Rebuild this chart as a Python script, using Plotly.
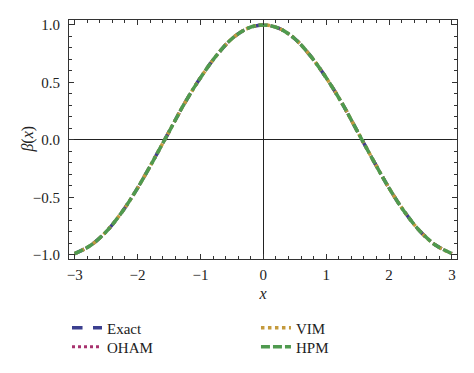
import plotly.graph_objects as go

x_vals = [-3.0, -2.75, -2.5, -2.25, -2.0, -1.75, -1.5, -1.25, -1.0, -0.75, -0.5, -0.25,
          0.0, 0.25, 0.5, 0.75, 1.0, 1.25, 1.5, 1.75, 2.0, 2.25, 2.5, 2.75, 3.0]
y_exact = [-0.99, -0.92, -0.80, -0.63, -0.42, -0.18, 0.07, 0.32, 0.54, 0.73, 0.88, 0.97,
           1.00, 0.97, 0.88, 0.73, 0.54, 0.32, 0.07, -0.18, -0.42, -0.63, -0.80, -0.92, -0.99]
y_oham = [-0.99, -0.92, -0.80, -0.63, -0.42, -0.18, 0.07, 0.32, 0.54, 0.73, 0.88, 0.97,
          1.00, 0.97, 0.88, 0.73, 0.54, 0.32, 0.07, -0.18, -0.42, -0.63, -0.80, -0.92, -0.99]
y_vim = [-0.99, -0.92, -0.80, -0.63, -0.42, -0.18, 0.07, 0.32, 0.54, 0.73, 0.88, 0.97,
         1.00, 0.97, 0.88, 0.73, 0.54, 0.32, 0.07, -0.18, -0.42, -0.63, -0.80, -0.92, -0.99]
y_hpm = [-0.99, -0.92, -0.80, -0.63, -0.42, -0.18, 0.07, 0.32, 0.54, 0.73, 0.88, 0.97,
         1.00, 0.97, 0.88, 0.73, 0.54, 0.32, 0.07, -0.18, -0.42, -0.63, -0.80, -0.92, -0.99]

series_names = ["Exact", "OHAM", "VIM", "HPM"]
x_ticks = [-3, -2, -1, 0, 1, 2, 3]
y_ticks = [-1.0, -0.5, 0.0, 0.5, 1.0]
y_tick_text = ["\u22121.0", "\u22120.5", "0.0", "0.5", "1.0"]
x_tick_text = ["\u22123", "\u22122", "\u22121", "0", "1", "2", "3"]

FONT = "Liberation Serif"

fig = go.Figure()
styles = [
    (y_exact, series_names[0], "#3b3f8f", "dash", "legend"),
    (y_oham, series_names[1], "#a8326e", "dot", "legend2"),
    (y_vim, series_names[2], "#c49a3c", "dot", "legend3"),
    (y_hpm, series_names[3], "#4f9a4f", "9px,3px", "legend4"),
]
for ys, name, color, dash, lg in styles:
    fig.add_trace(go.Scatter(
        x=x_vals, y=ys, name=name, mode="lines", showlegend=True,
        line=dict(color=color, width=3.5 if name != "OHAM" else 3, dash=dash, shape="spline"),
        legend=lg,
    ))

axis_common = dict(
    showline=True, linecolor="#333333", linewidth=1.2, mirror="allticks",
    ticks="inside", ticklen=5, tickwidth=1, tickcolor="#333333",
    showgrid=False, zeroline=True, zerolinecolor="#222222", zerolinewidth=1,
    tickfont=dict(family=FONT, size=15, color="#222222"),
)

def leg(x, y):
    return dict(
        x=x, y=y, xref="container", yref="container",
        xanchor="left", yanchor="middle",
        bgcolor="rgba(0,0,0,0)", font=dict(family=FONT, size=15),
        tracegroupgap=0, itemwidth=30,
    )

row1, row2 = 0.1206, 0.0697
col1, col2 = 0.1414, 0.540

fig.update_layout(
    width=474, height=373,
    margin=dict(l=69, r=17, t=20, b=114, autoexpand=False),
    paper_bgcolor="white", plot_bgcolor="white", showlegend=True,
    font=dict(family=FONT, size=15, color="#222222"),
    xaxis=dict(
        range=[-3.09, 3.08], tickvals=x_ticks, ticktext=x_tick_text,
        minor=dict(dtick=0.2, tick0=0, ticks="inside", ticklen=3, tickcolor="#333333", showgrid=False),
        title=dict(text="<i>x</i>", font=dict(family=FONT, size=16), standoff=5),
        ticklabelstandoff=2,
        **axis_common,
    ),
    yaxis=dict(
        range=[-1.037, 1.043], tickvals=y_ticks, ticktext=y_tick_text,
        minor=dict(dtick=0.1, tick0=0, ticks="inside", ticklen=3, tickcolor="#333333", showgrid=False),
        ticklabelstandoff=5,
        **axis_common,
    ),
    annotations=[dict(
        text="<i>β</i>(<i>x</i>)", xref="paper", yref="paper", x=-0.108, y=0.5,
        xanchor="center", yanchor="middle", textangle=-90, showarrow=False,
        font=dict(family=FONT, size=16, color="#222222"),
    )],
    legend=leg(col1, row1),
    legend2=leg(col1, row2),
    legend3=leg(col2, row1),
    legend4=leg(col2, row2),
)

fig.write_html("out.html", post_script="document.body.style.margin='0';",
               config={"displayModeBar": False})
